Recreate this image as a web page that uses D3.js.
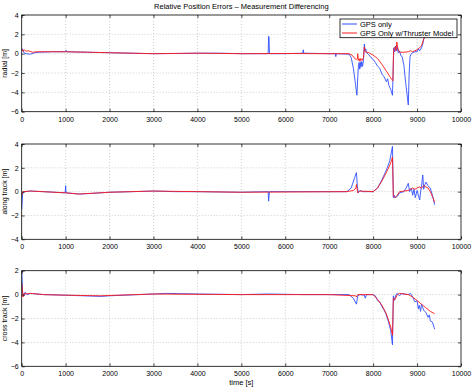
<!DOCTYPE html>
<html>
<head>
<meta charset="utf-8">
<script src="https://cdn.jsdelivr.net/npm/d3@7"></script>
<style>
body { margin: 0; background: #fff; }
svg { font-family: "Liberation Sans", Arial, sans-serif; }
.tick text { font-size: 7px; fill: #000; }
.grid line { stroke: #b8b8b8; stroke-dasharray: 1,2; stroke-width: 0.7px; }
.frame { fill: none; stroke: #000; stroke-width: 0.8px; }
</style>
</head>
<body>
<script>
// time ticks / y ticks
var xTicks = [0,1000,2000,3000,4000,5000,6000,7000,8000,9000,10000]

// radial [m]
var radialGps = [[0,0.3],[20,0.5],[50,0.1],[100,0.0],[200,-0.05],[300,0.1],[400,0.15],[700,0.2],[1000,0.2],[1010,0.35],[1020,0.2],[1500,0.15],[2000,0.1],[2500,0.05],[3000,0.0],[3500,0.02],[4000,0.05],[4500,0.05],[5000,0.0],[5610,0.0],[5620,1.8],[5630,1.7],[5640,0.0],[6000,0.0],[6400,0.05],[6410,0.4],[6420,0.05],[7000,0.0],[7140,0.0],[7150,-0.3],[7160,0.0],[7450,-0.05],[7500,-0.4],[7550,-1.5],[7600,-3.2],[7630,-4.3],[7650,-2.5],[7665,-1.2],[7680,-0.9],[7695,-1.6],[7710,-0.9],[7725,-1.4],[7740,-0.8],[7760,-1.3],[7780,-0.7],[7800,1.0],[7815,0.3],[7830,0.5],[7850,0.1],[7900,-0.1],[7950,-0.4],[8000,-0.6],[8050,-0.9],[8100,-1.3],[8150,-1.5],[8200,-2.1],[8250,-2.4],[8300,-2.9],[8330,-2.6],[8360,-3.3],[8400,-3.7],[8440,-4.3],[8460,-1.0],[8470,0.6],[8490,0.2],[8510,0.8],[8530,0.3],[8550,0.7],[8570,0.1],[8600,0.3],[8630,-0.2],[8660,-0.3],[8700,-1.2],[8740,-3.0],[8780,-4.5],[8800,-5.3],[8820,-2.0],[8840,-0.3],[8870,0.0],[8900,0.1],[8950,0.2],[9000,0.2],[9030,0.5],[9060,0.3],[9100,0.6],[9130,1.0],[9150,1.5],[9200,1.9],[9300,2.4],[9400,2.7]]
var radialThr = [[0,0.5],[30,0.25],[60,0.4],[100,0.25],[150,0.3],[250,0.15],[350,0.2],[1000,0.2],[1500,0.15],[2000,0.1],[3000,0.0],[4000,0.05],[5000,0.0],[6000,0.02],[7000,0.0],[7450,0.0],[7520,-0.15],[7580,-0.5],[7620,-0.6],[7640,-0.5],[7650,0.0],[7660,-0.7],[7680,-0.5],[7700,-0.8],[7720,-0.5],[7750,-0.7],[7780,-0.4],[7800,0.7],[7820,0.2],[7850,0.15],[7900,0.1],[8000,-0.15],[8100,-0.5],[8200,-1.1],[8300,-1.8],[8400,-2.5],[8450,-2.8],[8460,-0.5],[8470,0.5],[8500,0.7],[8520,0.3],[8540,1.2],[8560,0.6],[8580,0.3],[8600,0.15],[8700,0.15],[8800,0.2],[8850,0.3],[8900,0.2],[9000,0.4],[9050,0.6],[9100,0.8],[9150,1.5],[9200,1.9],[9300,2.5],[9400,2.8]]

// along track [m]
var alongGps = [[0,-1.5],[20,-0.2],[60,0.0],[200,0.05],[500,0.0],[990,-0.1],[1000,0.5],[1010,-0.1],[1300,-0.2],[1600,-0.15],[2000,-0.05],[2500,0.0],[3000,0.05],[3500,0.0],[4000,0.0],[5000,-0.05],[5610,0.0],[5620,-0.8],[5640,0.0],[6000,0.0],[7000,0.0],[7400,0.0],[7500,0.3],[7580,1.2],[7620,1.6],[7640,0.5],[7660,-0.1],[7700,0.1],[7750,0.0],[7800,0.0],[8000,0.0],[8100,0.3],[8200,1.0],[8300,1.8],[8380,2.6],[8400,3.0],[8440,3.8],[8460,-0.5],[8480,-0.3],[8500,-0.5],[8550,-0.4],[8600,-0.1],[8700,0.0],[8750,0.3],[8800,0.7],[8830,0.0],[8870,0.3],[8900,-0.3],[8930,0.2],[8960,-0.5],[9000,0.1],[9030,-0.3],[9060,-0.7],[9080,0.0],[9100,0.4],[9130,1.4],[9150,0.2],[9180,0.6],[9200,0.8],[9250,0.5],[9300,0.3],[9350,-0.3],[9400,-1.1]]
var alongThr = [[0,-0.3],[30,0.0],[200,0.05],[1000,-0.1],[1300,-0.2],[2000,-0.05],[3000,0.05],[5000,-0.05],[7400,0.0],[7550,0.1],[7610,0.3],[7620,0.6],[7650,-0.1],[7700,0.05],[8000,0.0],[8100,0.3],[8200,0.9],[8300,1.6],[8400,2.4],[8440,2.9],[8460,-0.4],[8500,-0.5],[8550,-0.3],[8600,0.0],[8800,0.1],[8900,0.3],[8950,0.2],[9000,0.3],[9050,0.4],[9100,0.3],[9150,0.5],[9200,0.4],[9250,0.3],[9300,0.0],[9350,-0.4],[9400,-0.9]]

// cross track [m]
var crossGps = [[0,2.0],[20,0.2],[50,-0.1],[80,0.2],[120,0.0],[200,0.1],[500,0.0],[1000,-0.05],[1800,-0.15],[2000,-0.1],[3000,0.05],[3300,0.1],[4000,0.05],[5000,0.0],[5600,0.05],[6400,0.0],[7000,0.0],[7450,0.0],[7550,-0.3],[7620,-0.8],[7650,-0.1],[7700,0.0],[7800,-0.05],[7820,-0.3],[7850,0.0],[8000,0.0],[8050,-0.1],[8100,-0.5],[8150,-0.6],[8200,-1.0],[8250,-1.3],[8300,-1.7],[8350,-2.3],[8400,-3.0],[8440,-4.2],[8460,-0.1],[8480,-0.5],[8520,0.0],[8550,0.1],[8600,-0.1],[8650,0.1],[8700,0.05],[8800,0.0],[8850,0.1],[8900,-0.2],[8950,-0.6],[9000,-0.5],[9030,-1.2],[9050,-0.9],[9080,-1.4],[9100,-0.8],[9150,-1.3],[9200,-1.5],[9250,-1.9],[9280,-1.7],[9300,-2.2],[9350,-2.3],[9400,-2.9]]
var crossThr = [[0,1.0],[30,-0.2],[60,0.1],[100,0.05],[200,0.1],[500,0.0],[1000,-0.05],[1800,-0.1],[3000,0.05],[5000,0.0],[7000,0.0],[7600,-0.1],[7620,-0.2],[7650,0.0],[8000,0.0],[8100,-0.4],[8200,-0.9],[8300,-1.6],[8400,-2.7],[8440,-3.4],[8460,-0.3],[8500,-0.4],[8550,0.0],[8600,0.1],[8700,0.05],[8800,0.0],[8900,-0.2],[9000,-0.5],[9100,-0.8],[9200,-1.1],[9300,-1.4],[9400,-1.6]]

var panels = [
  { label: 'radial [m]', top: 15, bottom: 111.7, yDomain: [-6,4], yTicks: [-6,-4,-2,0,2,4], gps: radialGps, thr: radialThr },
  { label: 'along track [m]', top: 144, bottom: 239.3, yDomain: [-4,4], yTicks: [-4,-2,0,2,4], gps: alongGps, thr: alongThr },
  { label: 'cross track [m]', top: 270.7, bottom: 366.3, yDomain: [-6,2], yTicks: [-6,-4,-2,0,2], gps: crossGps, thr: crossThr },
]
var legendItems = ['GPS only', 'GPS Only w/Thruster Model']
var colors = ['#2f4fff', '#ff1a1a']

var W = 474, H = 387, L = 21.7, R = 461

var svg = d3.select('body').append('svg').attr('width', W).attr('height', H)
var x = d3.scaleLinear().domain([0,10000]).range([L,R])

panels.forEach((p,i) => {
  var y = d3.scaleLinear().domain(p.yDomain).range([p.bottom,p.top])
  var g = svg.append('g')
  var clipId = 'clip' + i
  g.append('clipPath').attr('id', clipId).append('rect')
    .attr('x', L).attr('y', p.top).attr('width', R-L).attr('height', p.bottom-p.top)

  // grid
  var grid = g.append('g').attr('class','grid')
  grid.selectAll('.gx').data(xTicks.slice(1,-1)).enter().append('line')
    .attr('x1', d=>x(d)).attr('x2', d=>x(d)).attr('y1', p.top).attr('y2', p.bottom)
  grid.selectAll('.gy').data(p.yTicks.slice(1,-1)).enter().append('line')
    .attr('y1', d=>y(d)).attr('y2', d=>y(d)).attr('x1', L).attr('x2', R)

  var line = d3.line().x(d=>x(d[0])).y(d=>y(d[1]))
  var lines = g.append('g').attr('clip-path', 'url(#' + clipId + ')')
  lines.append('path').attr('d', line(p.gps)).attr('fill','none').attr('stroke',colors[0]).attr('stroke-width',0.9)
  lines.append('path').attr('d', line(p.thr)).attr('fill','none').attr('stroke',colors[1]).attr('stroke-width',0.9)

  // axes, ticks inward like matlab
  g.append('g').attr('transform','translate(0,' + p.bottom + ')')
    .call(d3.axisBottom(x).tickValues(xTicks).tickSize(-3).tickPadding(5).tickFormat(d3.format('d')))
    .call(a => a.select('.domain').remove())
  g.append('g').attr('transform','translate(0,' + p.top + ')')
    .call(d3.axisTop(x).tickValues(xTicks).tickSize(-3).tickFormat(''))
    .call(a => a.select('.domain').remove())
  g.append('g').attr('transform','translate(' + L + ',0)')
    .call(d3.axisLeft(y).tickValues(p.yTicks).tickSize(-3).tickPadding(3).tickFormat(d => d < 0 ? '\u2212' + (-d) : d))
    .call(a => a.select('.domain').remove())
  g.append('g').attr('transform','translate(' + R + ',0)')
    .call(d3.axisRight(y).tickValues(p.yTicks).tickSize(-3).tickFormat(''))
    .call(a => a.select('.domain').remove())
  g.selectAll('.tick line').attr('stroke','#000').attr('stroke-width',0.7)
  g.append('rect').attr('class','frame').attr('x',L).attr('y',p.top).attr('width',R-L).attr('height',p.bottom-p.top)

  g.append('text').attr('transform','translate(7,' + (p.top+p.bottom)/2 + ') rotate(-90)')
    .attr('text-anchor','middle').attr('font-size',7).text(p.label)
})

svg.append('text').attr('x',(L+R)/2).attr('y',9).attr('text-anchor','middle').attr('font-size',7.5).text('Relative Position Errors \u2013 Measurement Differencing')
svg.append('text').attr('x',(L+R)/2).attr('y',385).attr('text-anchor','middle').attr('font-size',7.5).text('time [s]')

// legend
var lg = svg.append('g').attr('transform','translate(340,19)')
lg.append('rect').attr('width',117).attr('height',18.7).attr('fill','#fff').attr('stroke','#000').attr('stroke-width',0.8)
legendItems.forEach((t,i) => {
  var yy = 5 + i*9
  lg.append('line').attr('x1',2).attr('x2',17).attr('y1',yy).attr('y2',yy).attr('stroke',colors[i]).attr('stroke-width',1)
  lg.append('text').attr('x',20).attr('y',yy+2.6).attr('font-size',7.5).text(t)
})
</script>
</body>
</html>
